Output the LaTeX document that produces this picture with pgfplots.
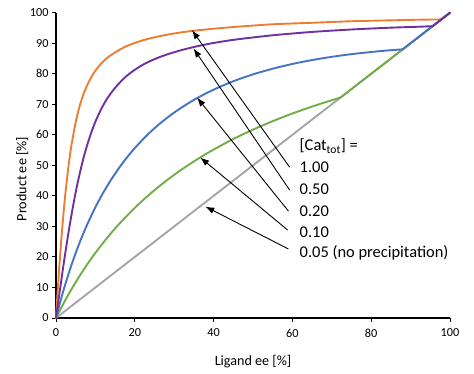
\documentclass[border=0pt]{standalone}
\usepackage{pgfplots}
\pgfplotsset{compat=1.18}
\usepackage{fontspec}
\setmainfont{Carlito}
\usetikzlibrary{arrows.meta}
\definecolor{cOrange}{HTML}{ED7D31}
\definecolor{cPurple}{HTML}{7030A0}
\definecolor{cBlue}{HTML}{4472C4}
\definecolor{cGreen}{HTML}{70AD47}
\definecolor{cGray}{HTML}{A5A5A5}
\begin{document}
\begin{tikzpicture}
\begin{axis}[
  width=394bp, height=305.3bp, scale only axis,
  xmin=0, xmax=100, ymin=0, ymax=100,
  axis lines=left,
  axis line style={-, black, line width=1.3pt},
  x axis line style={line width=1.1pt},
  tick align=outside,
  major tick length=4bp,
  tick style={black, line width=1pt},
  xtick={0,20,...,100}, ytick={0,10,...,100},
  /pgf/number format/assume math mode=true,
  tick label style={font=\fontsize{12.3}{14}\selectfont, text=black},
  xticklabel style={yshift=-3.5bp},
  xlabel={Ligand ee [\%]}, ylabel={Product ee [\%]},
  label style={font=\fontsize{14.2}{17}\selectfont},
  xlabel style={at={(axis description cs:0.5,-0.143)}, anchor=center},
  ylabel style={at={(axis description cs:-0.086,0.455)}, anchor=center},
  clip=false,
  every axis plot/.append style={line width=1.9pt, line join=round, line cap=round},
]
% orange, [Cat_tot] = 1.00
\addplot[cOrange, smooth] coordinates {(0,0) (0.5,10.3) (1,19.7) (1.5,28.1) (2,35.6) (2.5,42.2) (3,47.9) (3.5,52.9) (4,57.2) (5,64.1) (6,69.4) (7,73.4) (8,76.5) (9,79.0) (10,81.0) (11.5,83.4) (13,85.2) (15,87.0) (17.5,88.8) (20,90.1) (23,91.3) (27,92.5) (32,93.6) (38,94.5) (45,95.3) (55,96.2) (65,96.7) (75,97.2) (85,97.5) (92,97.7) (97.8,97.8)};
\addplot[cOrange] coordinates {(97.8,97.8) (100,100)};
% gray, 0.05 (no precipitation)
\addplot[cGray] coordinates {(0,0) (100,100)};
% green, 0.10
\addplot[cGreen, smooth] coordinates {(0,0) (2,4.99) (4,9.58) (6,13.80) (8,17.71) (10,21.33) (13,26.29) (16,30.77) (20,36.09) (24,40.79) (28,44.98) (32,48.73) (36,52.11) (40,55.17) (45,58.62) (50,61.70) (55,64.47) (60,66.98) (65,69.26) (70,71.34) (72.2,72.2)};
\addplot[cGreen] coordinates {(72.2,72.2) (100,100)};
% blue, 0.20
\addplot[cBlue, smooth] coordinates {(0,0) (1,4.93) (2,9.49) (3,13.72) (4,17.64) (5,21.29) (6,24.70) (7,27.88) (8,30.86) (10,36.28) (12,41.07) (14,45.33) (16,49.14) (18,52.57) (20,55.66) (23,59.74) (26,63.28) (30,67.31) (35,71.44) (40,74.79) (45,77.54) (50,79.80) (55,81.66) (60,83.21) (65,84.49) (70,85.55) (75,86.42) (80,87.13) (84,87.61) (88,88.0)};
\addplot[cBlue] coordinates {(88,88.0) (100,100)};
% purple, 0.50
\addplot[cPurple, smooth] coordinates {(0,0) (0.5,4.6) (1,9.2) (2,18.2) (3,26.6) (4,34.3) (5,41.2) (6,47.2) (7,52.5) (8,57.0) (9,60.9) (10,64.3) (11.5,68.5) (13,71.9) (15,75.4) (17.5,78.8) (20,81.3) (23,83.6) (27,85.8) (32,87.8) (38,89.6) (45,91.1) (55,92.6) (65,93.7) (75,94.5) (85,95.1) (92,95.4) (95.6,95.6)};
\addplot[cPurple] coordinates {(95.6,95.6) (100,100)};
% arrows
\draw[-{Latex[length=9bp,width=6.5bp]}, black, line width=0.9pt] (axis cs:59.3,49.4) -- (axis cs:34.5,94.3);
\draw[-{Latex[length=9bp,width=6.5bp]}, black, line width=0.9pt] (axis cs:59.3,41.9) -- (axis cs:34.9,88.3);
\draw[-{Latex[length=9bp,width=6.5bp]}, black, line width=0.9pt] (axis cs:59.0,35.0) -- (axis cs:35.8,72.2);
\draw[-{Latex[length=9bp,width=6.5bp]}, black, line width=0.9pt] (axis cs:58.8,28.8) -- (axis cs:36.6,52.6);
\draw[-{Latex[length=9bp,width=6.5bp]}, black, line width=0.9pt] (axis cs:59.0,22.6) -- (axis cs:37.9,36.5);
% annotation texts
\begin{scope}[every node/.style={anchor=west, inner sep=0pt, font=\fontsize{16.5}{19}\selectfont}]
\node at (axis cs:61.8,56.3) {[Cat\textsubscript{tot}] =};
\node at (axis cs:61.8,49.3) {1.00};
\node at (axis cs:61.8,42.1) {0.50};
\node at (axis cs:61.8,35.1) {0.20};
\node at (axis cs:61.8,28.2) {0.10};
\node at (axis cs:61.8,21.5) {0.05 (no precipitation)};
\end{scope}
\end{axis}
\path ([shift={(-56bp,-56bp)}]current axis.south west) rectangle ([shift={(24bp,12.7bp)}]current axis.north east);
\end{tikzpicture}
\end{document}
